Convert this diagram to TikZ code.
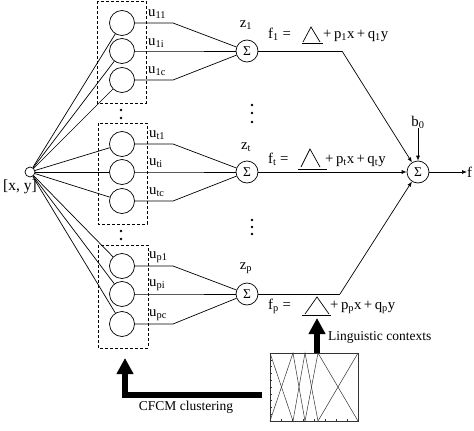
\documentclass[tikz,border=0pt]{standalone}
\usepackage{fontspec}
\setmainfont{Liberation Serif}
\usetikzlibrary{arrows.meta}
\newcommand\sbs[1]{\textsubscript{#1}}
\begin{document}
\begin{tikzpicture}[x=1pt,y=-1pt,
  txt/.style={font=\fontsize{13.5}{15}\selectfont, inner sep=0pt},
  big/.style={font=\fontsize{14.8}{16}\selectfont, inner sep=0pt},
  mf/.style={circle,draw,minimum size=25pt,inner sep=0pt,line width=0.7pt},
  sig/.style={circle,draw,minimum size=22pt,inner sep=0pt,line width=0.7pt,font=\fontsize{13.5}{15}\selectfont},
  ln/.style={line width=0.7pt},
  arr/.style={line width=0.7pt,-{Latex[length=5pt,width=4pt]}},
  dbox/.style={dashed,line width=0.6pt,dash pattern=on 3pt off 2pt},
  thick arr/.style={line width=6pt,-{Triangle[length=16pt,width=16pt]}},
  dotn/.style={circle,fill,inner sep=0pt,minimum size=2.6pt}]
\useasboundingbox (0,0) rectangle (474,431);

% input
\node[circle,draw,minimum size=10pt,inner sep=0pt,line width=0.7pt] (in) at (30,172) {};
\node[txt,font=\fontsize{15.5}{17}\selectfont] (xy) at (20,187) {[x, y]};

% dashed boxes
\draw[dbox] (97,1) rectangle (146,103);
\draw[dbox] (98,123) rectangle (147,224);
\draw[dbox] (98,245) rectangle (148,348);

% dots between boxes
\node[dotn] (d1) at (121,110) {};
\node[dotn] (d2) at (121,118) {};
\node[dotn] (d3) at (121,231) {};
\node[dotn] (d4) at (121,239) {};

% membership circles
\node[mf] (c11) at (122,23) {};
\node[mf] (c1i) at (122,51) {};
\node[mf] (c1c) at (122,80) {};
\node[mf] (ct1) at (122,144) {};
\node[mf] (cti) at (122,172) {};
\node[mf] (ctc) at (122,201) {};
\node[mf] (cp1) at (122,266) {};
\node[mf] (cpi) at (122,294) {};
\node[mf] (cpc) at (122,324) {};

\foreach \c in {c11,c1i,c1c,ct1,cti,ctc,cp1,cpi,cpc} \draw[ln] (in) -- (\c);

% sum nodes
\node[sig] (s1) at (247,51) {Σ};
\node[sig] (st) at (247,172) {Σ};
\node[sig] (sp) at (247,294) {Σ};
\node[sig] (fs) at (418,172) {Σ};

% knee coordinates
\coordinate (k11) at (173,23);
\coordinate (k1i) at (173,51);
\coordinate (k1c) at (173,80);
\coordinate (kt1) at (173,144);
\coordinate (kti) at (173,172);
\coordinate (ktc) at (173,201);
\coordinate (kp1) at (173,266);
\coordinate (kpi) at (173,294);
\coordinate (kpc) at (173,324);

\draw[ln] (c11) -- (k11) -- (s1);
\draw[ln] (c1i) -- (k1i) -- (s1);
\draw[ln] (c1c) -- (k1c) -- (s1);
\draw[ln] (ct1) -- (kt1) -- (st);
\draw[ln] (cti) -- (kti) -- (st);
\draw[ln] (ctc) -- (ktc) -- (st);
\draw[ln] (cp1) -- (kp1) -- (sp);
\draw[ln] (cpi) -- (kpi) -- (sp);
\draw[ln] (cpc) -- (kpc) -- (sp);

% u labels
\node[big,anchor=west] (u11) at (148,14) {u\sbs{11}};
\node[big,anchor=west] (u1i) at (148,43) {u\sbs{1i}};
\node[big,anchor=west] (u1c) at (148,71) {u\sbs{1c}};
\node[big,anchor=west] (ut1) at (149,135) {u\sbs{t1}};
\node[big,anchor=west] (uti) at (149,163) {u\sbs{ti}};
\node[big,anchor=west] (utc) at (149,192) {u\sbs{tc}};
\node[big,anchor=west] (up1) at (149,257) {u\sbs{p1}};
\node[big,anchor=west] (upi) at (149,285) {u\sbs{pi}};
\node[big,anchor=west] (upc) at (149,315) {u\sbs{pc}};

% z labels
\node[big] (z1) at (246,25) {z\sbs{1}};
\node[big] (zt) at (246,147) {z\sbs{t}};
\node[big] (zp) at (246,268) {z\sbs{p}};

% dots between sums
\node[dotn] (e1) at (252,105) {};
\node[dotn] (e2) at (252,113) {};
\node[dotn] (e3) at (252,122) {};
\node[dotn] (e4) at (252,220) {};
\node[dotn] (e5) at (252,227) {};
\node[dotn] (e6) at (252,234) {};

% outputs
\coordinate (o1) at (342,51);
\coordinate (op) at (340,294);
\draw[ln] (s1) -- (o1);
\draw[arr] (o1) -- (fs);
\draw[arr] (st) -- (fs);
\draw[ln] (sp) -- (op);
\draw[arr] (op) -- (fs);
\node[big] (b0) at (418,122) {b\sbs{0}};
\draw[arr] (b0) -- (fs);
\node[big,anchor=west] (f) at (467,172) {f};
\draw[arr] (fs) -- (f.west);

% formulas
\node[big,anchor=base west] (f1a) at (268,38) {f\sbs{1} =};
\draw[ln] (303,42) -- (311,27) -- (320,42);
\draw[ln] (302,43) -- (323,43);
\node[big,anchor=base west] (f1b) at (323,38) {+\,p\sbs{1}x\,+\,q\sbs{1}y};

\node[big,anchor=base west] (fta) at (268,163) {f\sbs{t} =};
\draw[ln] (301,167) -- (310,149) -- (320,167);
\draw[ln] (298,169) -- (327,169);
\node[big,anchor=base west] (ftb) at (325,163) {+\,p\sbs{t}x\,+\,q\sbs{t}y};

\node[big,anchor=base west] (fpa) at (268,309) {f\sbs{p} =};
\draw[ln] (305,314) -- (317,297) -- (329,314);
\draw[ln] (302,315) -- (331,315);
\node[big,anchor=base west] (fpb) at (330,309) {+\,p\sbs{p}x\,+\,q\sbs{p}y};

% membership plot
\node[draw=gray!40!black,line width=0.7pt,minimum width=88pt,minimum height=68pt,inner sep=0pt] (plot) at (314,387) {};
\begin{scope}[gray!40!black,line width=0.5pt]
\draw (270,353) -- (293,421);
\draw (270,421) -- (293,353) -- (305,421);
\draw (293,421) -- (305,353) -- (318,421);
\draw (305,421) -- (318,353) -- (358,421);
\draw (318,421) -- (358,353);
\foreach \i in {0,...,10} \draw[line width=0.3pt] (270,353+6.8*\i) -- (272,353+6.8*\i);
\foreach \i in {0,...,8} \draw[line width=0.3pt] (270+11*\i,421) -- (270+11*\i,419);
\end{scope}

% thick arrows
\coordinate (tipL) at (317,318);
\draw[thick arr] (plot.north -| tipL) -- (tipL);
\node[txt,anchor=west] (ling) at (328,337) {Linguistic contexts};
\coordinate (cstart) at (262,395);
\coordinate (ctip) at (125,358);
\draw[thick arr] (cstart) -- (ctip |- cstart) -- (ctip);
\node[txt] (cfcm) at (186,407) {CFCM clustering};
\end{tikzpicture}
\end{document}
